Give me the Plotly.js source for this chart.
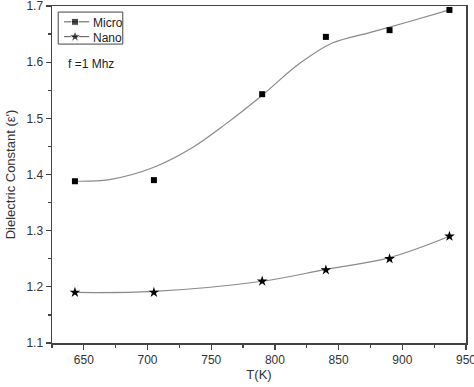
<!DOCTYPE html>
<html><head><meta charset="utf-8">
<script src="https://cdn.plot.ly/plotly-3.0.1.min.js"></script>
<style>html,body{margin:0;padding:0;background:#fff;}#chart{width:474px;height:387px;}</style>
</head><body><div id="chart"></div>
<script>
// Measured data points
const temperature = [643, 705, 790, 840, 890, 937];
const microValues = [1.388, 1.390, 1.543, 1.645, 1.657, 1.693];
const nanoValues  = [1.190, 1.190, 1.210, 1.230, 1.250, 1.290];
// Fitted curves
const microFitT = [643, 670, 705, 736, 762, 791, 819, 845, 875, 905, 937];
const microFitV = [1.388, 1.391, 1.413, 1.449, 1.491, 1.543, 1.597, 1.634, 1.653, 1.672, 1.693];
const nanoFitT = [643, 705, 790, 840, 890, 937];
const nanoFitV = [1.190, 1.192, 1.210, 1.231, 1.252, 1.290];
const seriesNames = ['Micro', 'Nano'];
const xTicks = [650, 700, 750, 800, 850, 900, 950];
const yTicks = [1.1, 1.2, 1.3, 1.4, 1.5, 1.6, 1.7];

const lineCol = '#8a8a8a';
const symbols = ['square', 'star'];
const symSizes = [6, 8];

// legend layout (paper fractions)
const legRows = [0.953, 0.909];
const legMarkerX = 0.0556;

const traces = [
  {x: microFitT, y: microFitV, mode: 'lines', line: {shape: 'spline', smoothing: 1, color: lineCol, width: 1.2}, showlegend: false, hoverinfo: 'skip'},
  {x: nanoFitT, y: nanoFitV, mode: 'lines', line: {shape: 'spline', color: lineCol, width: 1.2}, showlegend: false, hoverinfo: 'skip'},
  {x: temperature, y: microValues, name: seriesNames[0], mode: 'markers', marker: {symbol: symbols[0], size: symSizes[0], color: '#000'}, showlegend: false},
  {x: temperature, y: nanoValues, name: seriesNames[1], mode: 'markers', marker: {symbol: symbols[1], size: symSizes[1], color: '#000'}, showlegend: false},
  // legend swatch markers on an overlay axis spanning the plot area
  {x: [legMarkerX, legMarkerX], y: legRows, xaxis: 'x2', yaxis: 'y2', mode: 'markers',
   marker: {symbol: symbols, size: [7, 9], color: '#000'}, showlegend: false, hoverinfo: 'skip', cliponaxis: false}
];

const axisCommon = {
  showgrid: false, zeroline: false, showline: true, mirror: true,
  linecolor: '#444', linewidth: 1.5, ticks: 'outside', ticklen: 5, tickwidth: 1.2, tickcolor: '#444',
  ticklabeloverflow: 'allow',
  tickfont: {family: 'Liberation Sans, Arial, sans-serif', size: 12, color: '#333'}
};

const shapes = [
  {type: 'rect', xref: 'paper', yref: 'paper', x0: 0.015, x1: 0.171, y0: 0.887, y1: 0.982,
   line: {color: '#444', width: 1}, fillcolor: '#fff', layer: 'below'}
];
legRows.forEach(r => shapes.push({type: 'line', xref: 'paper', yref: 'paper', x0: 0.029, x1: 0.090, y0: r, y1: r,
  line: {color: '#555', width: 1}, layer: 'below'}));

const annotations = [
  {text: 'f =1 Mhz', xref: 'paper', yref: 'paper', x: 0.033, y: 0.829, xanchor: 'left', yanchor: 'middle', showarrow: false, font: {size: 12, color: '#222'}}
];
seriesNames.forEach((n, i) => annotations.push({text: n, xref: 'paper', yref: 'paper', x: 0.094, y: legRows[i] - 0.004,
  xanchor: 'left', yanchor: 'middle', showarrow: false, font: {size: 12, color: '#222'}}));

const layout = {
  width: 474, height: 387,
  margin: {l: 52, r: 8, t: 6, b: 44},
  paper_bgcolor: '#fff', plot_bgcolor: '#fff',
  font: {family: 'Liberation Sans, Arial, sans-serif', color: '#333'},
  showlegend: false,
  xaxis: Object.assign({}, axisCommon, {
    range: [625, 950], tickvals: xTicks, ticktext: xTicks.map(String),
    minor: {dtick: 25, tick0: 625, ticks: 'outside', ticklen: 3, tickcolor: '#444', showgrid: false},
    title: {text: 'T(K)', font: {size: 13, color: '#333'}, standoff: 4}
  }),
  yaxis: Object.assign({}, axisCommon, {
    range: [1.1, 1.7], tickvals: yTicks, ticktext: yTicks.map(v => v.toFixed(1)),
    minor: {dtick: 0.05, tick0: 1.1, ticks: 'outside', ticklen: 3, tickcolor: '#444', showgrid: false},
    title: {text: "Dielectric Constant (ε')", font: {size: 13, color: '#333'}, standoff: 8}
  }),
  xaxis2: {overlaying: 'x', range: [0, 1], visible: false, fixedrange: true},
  yaxis2: {overlaying: 'y', range: [0, 1], visible: false, fixedrange: true},
  shapes: shapes,
  annotations: annotations
};

Plotly.newPlot('chart', traces, layout, {displayModeBar: false, staticPlot: true});
</script>
</body></html>
